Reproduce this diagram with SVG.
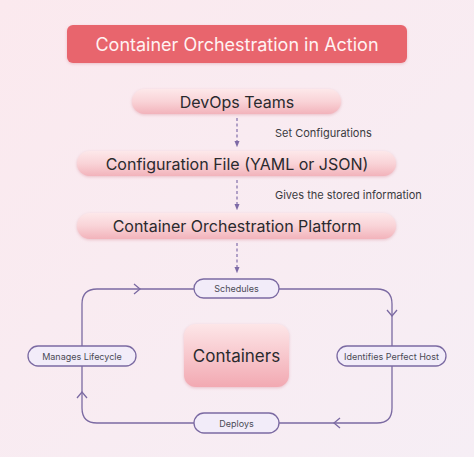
<svg xmlns="http://www.w3.org/2000/svg" width="474" height="457" viewBox="0 0 474 457">
<defs>
<linearGradient id="bg" x1="0" y1="0" x2="1" y2="1">
<stop offset="0" stop-color="#fbe9ee"/>
<stop offset="1" stop-color="#f6eef5"/>
</linearGradient>
<linearGradient id="node" x1="0" y1="0" x2="0" y2="1">
<stop offset="0" stop-color="#fde8ea"/>
<stop offset="0.5" stop-color="#f9d3d7"/>
<stop offset="1" stop-color="#f2b3bb"/>
</linearGradient>
<linearGradient id="cont" x1="0" y1="0" x2="0" y2="1">
<stop offset="0" stop-color="#fde6e8"/>
<stop offset="1" stop-color="#f2a9b2"/>
</linearGradient>
<filter id="sh" x="-10%" y="-30%" width="120%" height="160%">
<feDropShadow dx="0" dy="1" stdDeviation="1.5" flood-color="#d88a95" flood-opacity="0.45"/>
</filter>
<marker id="tri" viewBox="0 0 10 10" refX="5" refY="5" markerWidth="5" markerHeight="5" orient="auto">
<path d="M0 1 L10 5 L0 9 Z" fill="#7d6aa6"/>
</marker>
</defs>
<style>
.t{font-family:Inter,"Noto Sans","Liberation Sans",sans-serif;fill:#2a2a2e;text-anchor:middle}
.big{font-size:16px}
.lab{font-size:11px;fill:#3a3a40;text-anchor:start}
.pt{font-size:9px;fill:#4a4a55}
.pill{fill:#f2ecf9;stroke:#7b6aa2;stroke-width:1.3}
.ln{fill:none;stroke:#7b6aa2;stroke-width:1.3}
.dash{fill:none;stroke:#8a78b0;stroke-width:1.3;stroke-dasharray:3 2.5}
</style>
<rect width="474" height="457" fill="url(#bg)"/>
<g id="title">
<rect x="67" y="25" width="340" height="38" rx="6" fill="#e8656d" filter="url(#sh)"/>
<text class="t" x="237" y="50.5" style="font-size:18px;fill:#fff2f2">Container Orchestration in Action</text>
</g>
<g id="devops">
<rect x="132" y="89" width="209" height="25" rx="12.5" fill="url(#node)" filter="url(#sh)"/>
<text class="t big" x="237" y="108">DevOps Teams</text>
</g>
<g id="config">
<rect x="77" y="151" width="319" height="25" rx="12.5" fill="url(#node)" filter="url(#sh)"/>
<text class="t big" x="237" y="170">Configuration File (YAML or JSON)</text>
</g>
<g id="platform">
<rect x="77" y="213" width="319" height="26" rx="13" fill="url(#node)" filter="url(#sh)"/>
<text class="t big" x="237" y="232">Container Orchestration Platform</text>
</g>
<g id="connectors">
<path class="dash" d="M237 118 V144" marker-end="url(#tri)"/>
<path class="dash" d="M237 180 V207" marker-end="url(#tri)"/>
<path class="dash" d="M237 243 V270" marker-end="url(#tri)"/>
<path class="ln" d="M82 346 V304 Q82 289 97 289 H194"/>
<path class="ln" d="M279 289 H377 Q392 289 392 304 V346"/>
<path class="ln" d="M392 366 V408 Q392 423 377 423 H279"/>
<path class="ln" d="M194 423 H97 Q82 423 82 408 V366"/>
<path class="ln" d="M134 284 L140 289 L134 294"/>
<path class="ln" d="M387 310 L392 316 L397 310"/>
<path class="ln" d="M340 418 L334 423 L340 428"/>
<path class="ln" d="M77 398 L82 392 L87 398"/>
<text class="t lab" x="275" y="137">Set Configurations</text>
<text class="t lab" x="275" y="199">Gives the stored information</text>
</g>
<g id="schedules">
<rect class="pill" x="194" y="279" width="85" height="19" rx="9.5"/>
<text class="t pt" x="236.5" y="292">Schedules</text>
</g>
<g id="identifies">
<rect class="pill" x="337" y="346" width="109" height="20" rx="10"/>
<text class="t pt" x="391.5" y="359.5">Identifies Perfect Host</text>
</g>
<g id="deploys">
<rect class="pill" x="194" y="413" width="85" height="20" rx="10"/>
<text class="t pt" x="236.5" y="426.5">Deploys</text>
</g>
<g id="manages">
<rect class="pill" x="28" y="346" width="108" height="20" rx="10"/>
<text class="t pt" x="82" y="359.5">Manages Lifecycle</text>
</g>
<g id="containers">
<rect x="184" y="324" width="105" height="63" rx="12" fill="url(#cont)" filter="url(#sh)"/>
<text class="t" x="236.5" y="362" style="font-size:17px">Containers</text>
</g>
</svg>
